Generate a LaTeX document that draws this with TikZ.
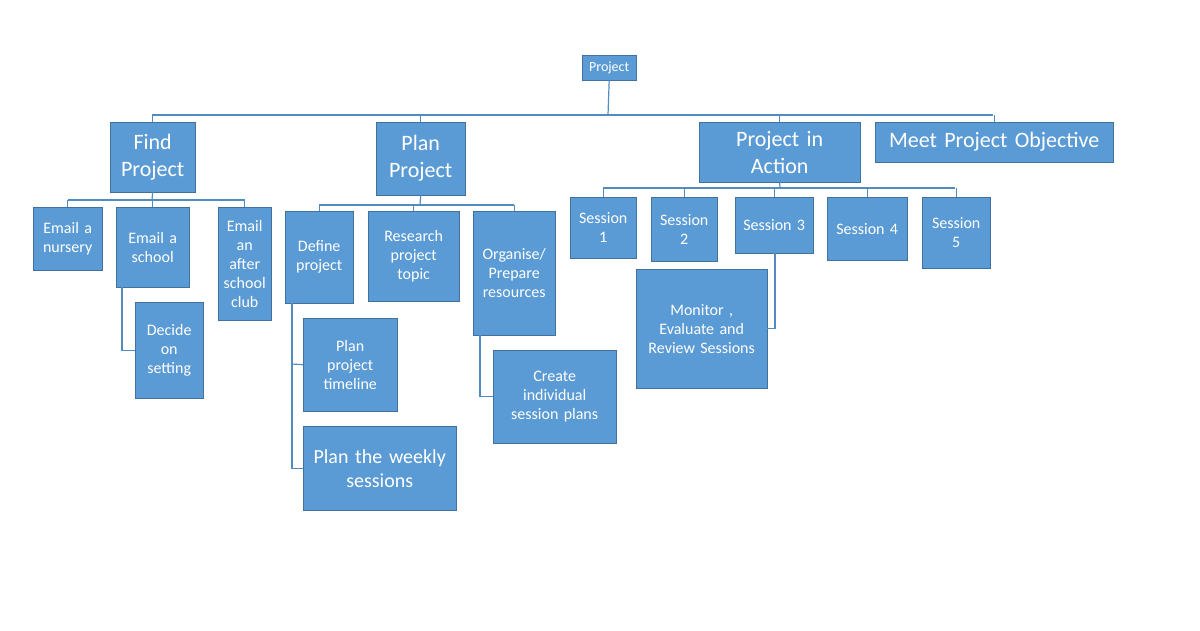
\documentclass[tikz,border=0pt]{standalone}
\usepackage{fontspec}
\setmainfont{Carlito}
\definecolor{bx}{HTML}{5B9BD5}
\definecolor{bd}{HTML}{41719C}
\tikzset{box/.style={draw=bd,fill=bx,text=white,align=center,anchor=north west,inner sep=1pt,font=\fontsize{16}{19}\selectfont},
big/.style={font=\fontsize{22}{27}\selectfont},
ln/.style={draw=bx!90!black,line width=1.2pt}}
\newcommand{\bx}[7][]{\node[box,#1,minimum width=#4-#2,minimum height=#5-#3,text width=#4-#2-2] (#6) at (#2,#3) {#7};}
\begin{document}
\begin{tikzpicture}[x=1pt,y=-1pt]
\useasboundingbox (0,0) rectangle (1200,630);
\bx[font=\fontsize{14}{16}\selectfont]{582}{55}{636}{80}{p}{Project}
\bx[big]{110}{122}{195}{192}{find}{Find\\Project}
\bx[big]{376}{122}{465}{195}{plan}{Plan\\Project}
\bx[big]{699}{122}{860}{182}{act}{Project in\\Action}
\bx[big]{875}{122}{1113}{162}{meet}{Meet Project Objective}
\bx{33}{207}{102}{270}{e1}{Email a\\nursery}
\bx{116}{207}{189}{287}{e2}{Email a\\school}
\bx{218}{207}{271}{320}{e3}{Email\\an\\after\\school\\club}
\bx{135}{302}{203}{398}{dec}{Decide\\on\\setting}
\bx{285}{211}{353}{303}{def}{Define\\project}
\bx{368}{211}{459}{301}{res}{Research\\project\\topic}
\bx{473}{211}{555}{335}{org}{Organise/\\Prepare\\resources}
\bx{303}{318}{397}{411}{tl}{Plan\\project\\timeline}
\bx[font=\fontsize{20}{24}\selectfont]{303}{426}{456}{510}{wk}{Plan the weekly\\sessions}
\bx{493}{350}{616}{443}{cr}{Create\\individual\\session plans}
\bx{570}{197}{636}{258}{s1}{Session\\1}
\bx{651}{197}{717}{261}{s2}{Session\\2}
\bx{735}{197}{813}{253}{s3}{Session 3}
\bx{827}{197}{907}{260}{s4}{Session 4}
\bx{922}{197}{990}{268}{s5}{Session\\5}
\bx{636}{269}{767}{388}{mon}{Monitor ,\\Evaluate and\\Review Sessions}
% top level
\coordinate (t) at (608,115);
\draw[ln] (p.south) -- (t);
\draw[ln] (152,115) -- (993,115);
\foreach \n in {find,plan,act,meet} \draw[ln] (\n.north) -- (\n.north |- t);
% find
\draw[ln] (find.south) -- (152,200);
\draw[ln] (68,200) -- (245,200);
\foreach \n in {e1,e2,e3} \draw[ln] (\n.north) -- (\n.north |- 0,200);
\draw[ln] (e2.south -| 122,0) |- (dec.west);
% plan
\draw[ln] (plan.south) -- (420,205);
\draw[ln] (319,205) -- (514,205);
\foreach \n in {def,res,org} \draw[ln] (\n.north) -- (\n.north |- 0,205);
\draw[ln] (def.south -| 292,0) |- (wk.west);
\draw[ln] (292,364) -- (tl.west);
\draw[ln] (org.south -| 480,0) |- (cr.west);
% action
\draw[ln] (act.south) -- (780,188);
\draw[ln] (603,188) -- (955,188);
\foreach \n in {s1,s2,s3,s4,s5} \draw[ln] (\n.north) -- (\n.north |- 0,188);
\draw[ln] (s3.south -| 775,0) |- (mon.east);
\end{tikzpicture}
\end{document}
